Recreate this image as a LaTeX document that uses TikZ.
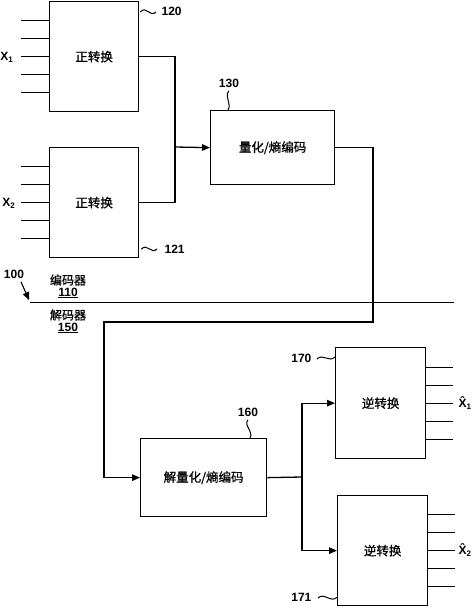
\documentclass[tikz,border=0pt]{standalone}
\usepackage{fontspec}
\setmainfont{Liberation Sans}
\newfontfamily\cjk[FakeBold=0.8]{Noto Sans CJK SC}
\usetikzlibrary{arrows.meta, calc}
\tikzset{
  every picture/.style={x=1pt, y=-1pt, line width=1.3pt},
  block/.style={draw, anchor=north west, inner sep=0pt, font=\cjk\fontsize{12.5}{14}\selectfont},
  arrow/.style={-{Triangle[length=8pt, width=6.5pt]}},
  tag/.style={font=\bfseries\fontsize{12}{14}\selectfont, inner sep=1pt},
  side/.style={font=\cjk\fontsize{12}{14}\selectfont, inner sep=1pt},
  leader/.style={line width=1pt},
  wire/.style={line width=1.2pt},
}

\begin{document}
\begin{tikzpicture}
  \useasboundingbox (0,0) rectangle (474,609);
  % encoder
  \node[block, minimum width=89pt, minimum height=110pt] (fwd1) at (49,1) {正转换};
  \node[block, minimum width=89pt, minimum height=110pt] (fwd2) at (49,147) {正转换};
  \node[block, minimum width=124pt, minimum height=74pt] (quant) at (210,110) {量化/熵编码};
  % decoder
  \node[block, minimum width=126pt, minimum height=78pt] (dequant) at (140,438) {解量化/熵编码};
  \node[block, minimum width=90pt, minimum height=111pt] (inv1) at (335,347) {逆转换};
  \node[block, minimum width=90pt, minimum height=110pt] (inv2) at (337,495) {逆转换};
  % input and output lines
  \foreach \dy in {-36,-18,0,18,36} {
    \draw[wire] ($(fwd1.west)+(0,\dy)$) -- ++(-28,0);
    \draw[wire] ($(fwd2.west)+(0,\dy)$) -- ++(-28,0);
    \draw[wire] ($(inv1.east)+(0,\dy)$) -- ++(27,0);
    \draw[wire] ($(inv2.east)+(0,\dy)$) -- ++(27,0);
  }
  \node[tag, anchor=east] (x1) at (15,57) {X\textsubscript{1}};
  \node[tag, anchor=east] (x2) at (17,203) {X\textsubscript{2}};
  \node[tag, anchor=west] (xh1) at (457,403) {X̂\textsubscript{1}};
  \node[tag, anchor=west] (xh2) at (457,550) {X̂\textsubscript{2}};
  % connectors
  \coordinate (join) at (175,147);
  \draw (fwd1.east) -| (join);
  \draw (fwd2.east) -| (join);
  \draw[arrow] (join) -- (quant.west);
  \coordinate (down) at (373,322);
  \coordinate (back) at (104,322);
  \draw[arrow] (quant.east) -| (down) -- (back) |- (dequant.west);
  \coordinate (split) at (302,477);
  \draw (dequant.east) -- (split);
  \draw[arrow] (split) |- (inv1.west);
  \draw[arrow] (split) |- (inv2.west);
  % encoder / decoder boundary
  \coordinate (sepL) at (30,302);
  \coordinate (sepR) at (454,302);
  \draw[line width=0.9pt] (sepL) -- (sepR);
  \node[tag] (n100) at (14,274) {100};
  \draw[arrow, line width=1.1pt, shorten >=2pt] ($(n100.south)+(7,2)$) -- (sepL);
  \node[side] (enc) at (68,280) {编码器};
  \node[tag] (encid) at (68,293) {\underline{110}};
  \node[side] (dec) at (68,315) {解码器};
  \node[tag] (decid) at (68,328) {\underline{150}};
  % reference numerals
  \node[tag, anchor=west] (n120) at (160,11) {120};
  \draw[leader] ($(fwd1.north east)+(1,11)$) .. controls +(6,-7) and +(-6,6) .. ($(n120.west)+(-4,1)$);
  \node[tag, anchor=west] (n121) at (163,249) {121};
  \draw[leader] ($(fwd2.south east)+(2,-9)$) .. controls +(6,-7) and +(-6,6) .. ($(n121.west)+(-6,0)$);
  \node[tag] (n130) at (229,83) {130};
  \draw[leader] ($(n130.south)+(0,2)$) .. controls +(-5,5) and +(4,-6) .. ($(quant.north west)+(18,0)$);
  \node[tag] (n160) at (248,412) {160};
  \draw[leader] ($(n160.south)+(0,2)$) .. controls +(-5,5) and +(4,-6) .. ($(dequant.north west)+(110,0)$);
  \node[tag, anchor=east] (n170) at (313,358) {170};
  \draw[leader] ($(n170.east)+(4,1)$) .. controls +(6,-6) and +(-6,6) .. ($(inv1.north west)+(0,10)$);
  \node[tag, anchor=east] (n171) at (313,597) {171};
  \draw[leader] ($(n171.east)+(5,1)$) .. controls +(6,-6) and +(-6,6) .. ($(inv2.south west)+(0,-9)$);
\end{tikzpicture}
\end{document}
